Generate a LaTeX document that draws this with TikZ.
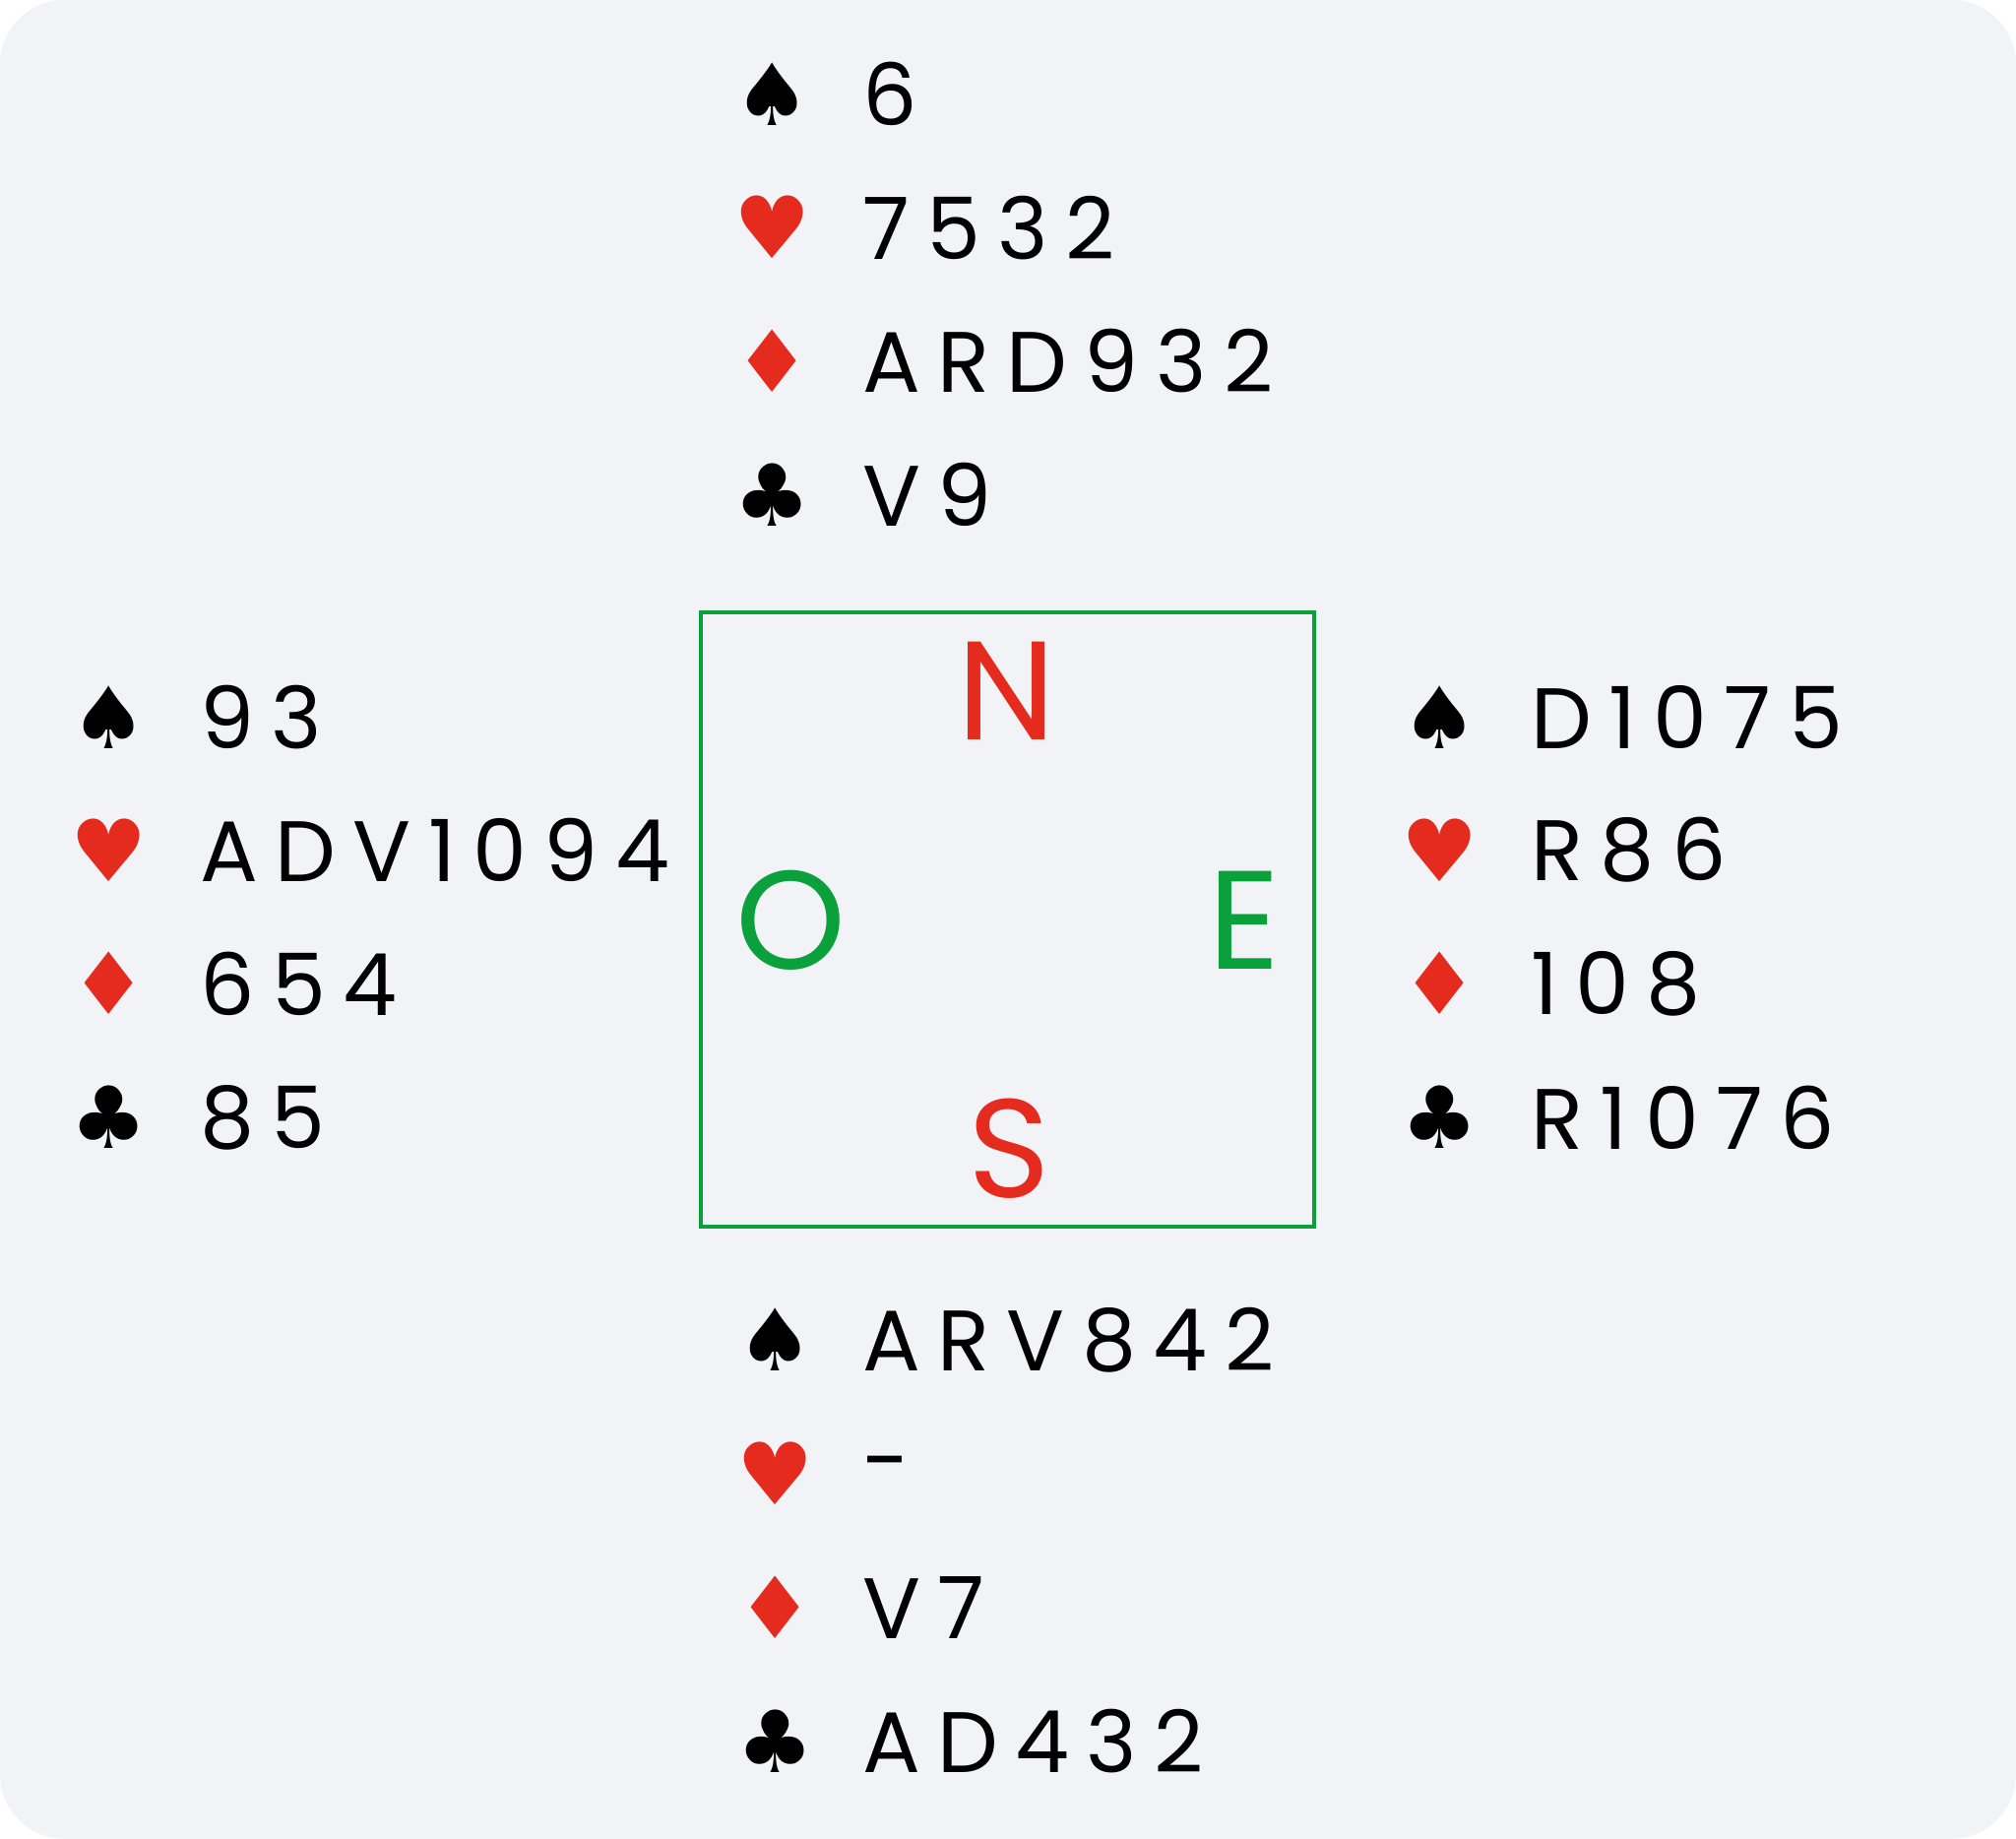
\documentclass[tikz,border=0pt]{standalone}
\usepackage{fontspec}
\setmainfont{Poppins}[LetterSpace=20]
\newfontfamily\suitfont{DejaVu Sans}
\begin{document}
\definecolor{bg}{HTML}{F1F3F7}
\definecolor{cred}{HTML}{E42B1E}
\definecolor{cgreen}{HTML}{0AA03C}
\begin{tikzpicture}[x=0.01cm,y=-0.01cm,
  suit/.style={font=\suitfont\fontsize{19}{19}\selectfont,inner sep=0pt,anchor=center},
  rs/.style={suit,text=cred},
  bs/.style={suit,text=black},
  hand/.style={font=\fontsize{19}{19}\selectfont,inner sep=0pt,anchor=west},
  dir/.style={font=\fontsize{31}{31}\selectfont\setmainfont{Poppins},inner sep=0pt,anchor=center}]
\useasboundingbox (0,0) rectangle (1568,1430);
\fill[white] (0,0) rectangle (1568,1430);
\fill[bg,rounded corners=0.5cm] (0,0) rectangle (1568,1430);
\draw[cgreen,line width=0.8pt] (545,476) rectangle (1022,954);
\node[dir,text=cred] (N) at (783,537) {N};
\node[dir,text=cgreen] (O) at (615,716) {O};
\node[dir,text=cgreen] (E) at (968,716) {E};
\node[dir,text=cred] (S) at (785,893) {S};
% North
\node[bs] (ns) at (601,73) {♠}; \node[hand] (nst) at (670,73) {6};
\node[rs] (nh) at (601,177) {♥}; \node[hand] (nht) at (670,177) {7532};
\node[rs] (nd) at (601,281) {♦}; \node[hand] (ndt) at (670,281) {ARD932};
\node[bs] (nc) at (601,385) {♣}; \node[hand] (nct) at (670,385) {V9};
% West
\node[bs] (ws) at (85,558) {♠}; \node[hand] (wst) at (155,558) {93};
\node[rs] (wh) at (85,661) {♥}; \node[hand] (wht) at (155,661) {ADV1094};
\node[rs] (wd) at (85,765) {♦}; \node[hand] (wdt) at (155,765) {654};
\node[bs] (wc) at (85,869) {♣}; \node[hand] (wct) at (155,869) {85};
% East
\node[bs] (es) at (1120,558) {♠}; \node[hand] (est) at (1190,558) {D1075};
\node[rs] (eh) at (1120,661) {♥}; \node[hand] (eht) at (1190,661) {R86};
\node[rs] (ed) at (1120,765) {♦}; \node[hand] (edt) at (1190,765) {108};
\node[bs] (ec) at (1120,869) {♣}; \node[hand] (ect) at (1190,869) {R1076};
% South
\node[bs] (ss) at (603,1042) {♠}; \node[hand] (sst) at (670,1042) {ARV842};
\node[rs] (sh) at (603,1146) {♥}; \node[hand] (sht) at (670,1146) {-};
\node[rs] (sd) at (603,1250) {♦}; \node[hand] (sdt) at (670,1250) {V7};
\node[bs] (sc) at (603,1354) {♣}; \node[hand] (sct) at (670,1354) {AD432};
\end{tikzpicture}
\end{document}
